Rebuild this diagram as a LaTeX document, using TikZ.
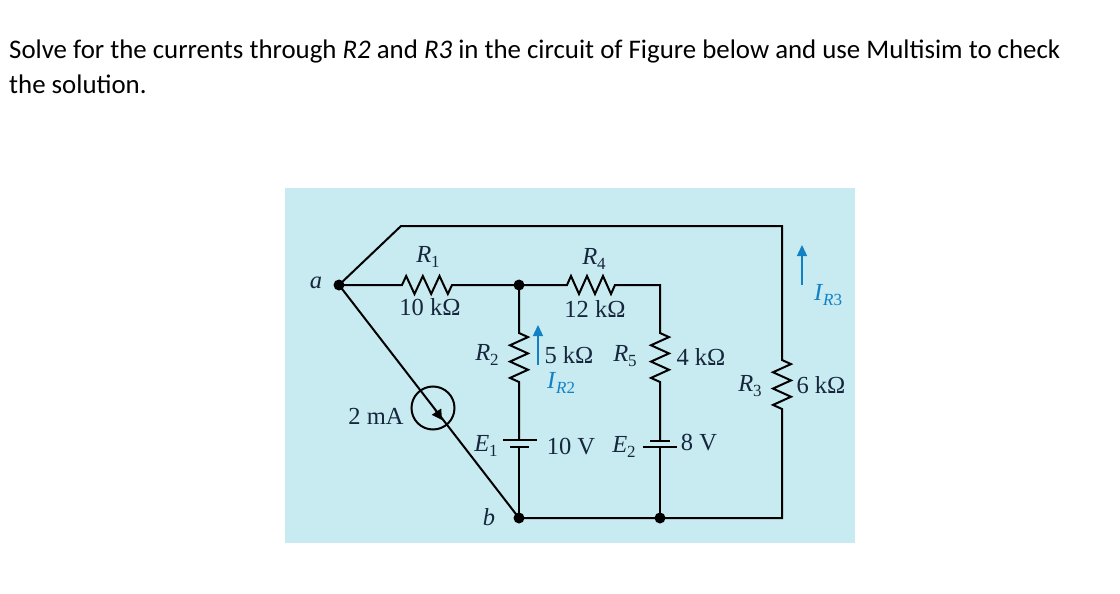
\documentclass[tikz,border=0pt]{standalone}
\usepackage{fontspec}
\setmainfont{Liberation Serif}
\newfontfamily\bodyfont{Carlito}
\usetikzlibrary{calc,arrows.meta}
\definecolor{panel}{HTML}{C8EAF1}
\definecolor{ink}{HTML}{16263C}
\definecolor{flow}{HTML}{1180C4}
\newcommand{\sym}[2]{\textit{#1}\raisebox{-0.22em}{\fontsize{17}{17}\selectfont #2}}
\newcommand{\isym}[2]{\textit{#1}\raisebox{-0.22em}{\fontsize{17}{17}\selectfont #2}}
\tikzset{
  x=1pt,y=-1pt,
  wire/.style={line width=2pt,black,line join=miter},
  dot/.style={circle,fill=black,inner sep=0pt,minimum size=11pt},
  lab/.style={inner sep=0pt,text=ink,font=\fontsize{24.5}{26}\selectfont},
  blab/.style={inner sep=0pt,text=flow,font=\fontsize{24.5}{26}\selectfont},
  flowarrow/.style={line width=1.3pt,flow,-{Triangle[length=11pt,width=10pt]}},
  plate/.style={line width=2pt,black},
  para/.style={inner sep=0pt,anchor=base west,text=black,font=\bodyfont\fontsize{26.85}{30}\selectfont},
  resistor/.style={to path={
    -- ($(\tikztostart)!1/12!(\tikztotarget)!9pt!90:(\tikztotarget)$)
    -- ($(\tikztostart)!3/12!(\tikztotarget)!9pt!-90:(\tikztotarget)$)
    -- ($(\tikztostart)!5/12!(\tikztotarget)!9pt!90:(\tikztotarget)$)
    -- ($(\tikztostart)!7/12!(\tikztotarget)!9pt!-90:(\tikztotarget)$)
    -- ($(\tikztostart)!9/12!(\tikztotarget)!9pt!90:(\tikztotarget)$)
    -- ($(\tikztostart)!11/12!(\tikztotarget)!9pt!-90:(\tikztotarget)$)
    -- (\tikztotarget)}},
}
\begin{document}
\begin{tikzpicture}
\useasboundingbox (0,0) rectangle (1120,594);
\fill[white] (0,0) rectangle (1120,594);
\fill[panel] (285,188) rectangle (855,543);
% text
\node[para] (line1) at (9,59) {Solve for the currents through \textit{R2} and \textit{R3} in the circuit of Figure below and use Multisim to check};
\node[para] (line2) at (9,94) {the solution.};
% junctions
\node[dot] (a) at (339,285) {};
\node[dot] (top) at (519,285) {};
\node[dot] (b) at (519,518) {};
\node[dot] (mid) at (660,518) {};
\coordinate (tl) at (401,226);
\coordinate (tr) at (782,226);
\coordinate (br) at (782,518);
\coordinate (r4c) at (660,285);
\coordinate (r1s) at (402,285);
\coordinate (r1e) at (452,285);
\coordinate (r4s) at (567,285);
\coordinate (r4e) at (615,285);
\coordinate (r2s) at (519,333);
\coordinate (r2e) at (519,382);
\coordinate (r5s) at (660,333);
\coordinate (r5e) at (660,382);
\coordinate (r3s) at (782,360);
\coordinate (r3e) at (782,409);
\coordinate (e1p) at (519,440);
\coordinate (e1n) at (519,447);
\coordinate (e2n) at (660,441);
\coordinate (e2p) at (660,447);
% wires
\draw[wire] (a.center) -- (tl) -- (tr) -- (r3s) to[resistor] (r3e) -- (br) -- (b.center) -- (a.center);
\draw[wire] (a.center) -- (r1s) to[resistor] (r1e) -- (top.center) -- (r4s) to[resistor] (r4e) -- (r4c) -- (r5s) to[resistor] (r5e) -- (e2n);
\draw[wire] (e2p) -- (mid.center);
\draw[wire] (top.center) -- (r2s) to[resistor] (r2e) -- (e1p);
\draw[wire] (e1n) -- (b.center);
% batteries
\draw[plate] ($(e1p)+(-16,0)$) -- ($(e1p)+(18,0)$);
\draw[plate] ($(e1n)+(-9,0)$) -- ($(e1n)+(10,0)$);
\draw[plate] ($(e2n)+(-10,0)$) -- ($(e2n)+(10,0)$);
\draw[plate] ($(e2p)+(-17,0)$) -- ($(e2p)+(17,0)$);
% current source
\node[circle,draw=black,line width=2pt,minimum size=43pt,inner sep=0pt] (src) at (433,408) {};
\coordinate (srctail) at (434,408);
\coordinate (srctip) at (442,420);
\draw[line width=1.5pt,-{Triangle[length=10pt,width=11pt]}] (srctail) -- (srctip);
% current arrows
\coordinate (ir2t) at (538,365);
\coordinate (ir2h) at (538,325);
\coordinate (ir3t) at (802,285);
\coordinate (ir3h) at (802,245);
\draw[flowarrow] (ir2t) -- (ir2h);
\draw[flowarrow] (ir3t) -- (ir3h);
% labels
\node[lab] (la) at (316,283) {\textit{a}};
\node[lab] (lb) at (489,517) {\textit{b}};
\node[lab] (lr1) at (428,257) {\sym{R}{1}};
\node[lab] (v1) at (430,307) {10 kΩ};
\node[lab] (lr4) at (594,259) {\sym{R}{4}};
\node[lab] (v4) at (595,309) {12 kΩ};
\node[lab] (lr2) at (487,355) {\sym{R}{2}};
\node[lab] (v2) at (569,355) {5 kΩ};
\node[lab] (lr5) at (625,356) {\sym{R}{5}};
\node[lab] (v5) at (701,357) {4 kΩ};
\node[lab] (lr3) at (750,386) {\sym{R}{3}};
\node[lab] (v3) at (821,385) {6 kΩ};
\node[lab] (ls) at (376,416) {2 mA};
\node[lab] (le1) at (486,446) {\sym{E}{1}};
\node[lab] (ve1) at (571,447) {10 V};
\node[lab] (le2) at (624,447) {\sym{E}{2}};
\node[lab] (ve2) at (699,443) {8 V};
\node[blab] (lir2) at (561,383) {\isym{I}{\textit{R}2}};
\node[blab] (lir3) at (828,295) {\isym{I}{\textit{R}3}};
\end{tikzpicture}
\end{document}
